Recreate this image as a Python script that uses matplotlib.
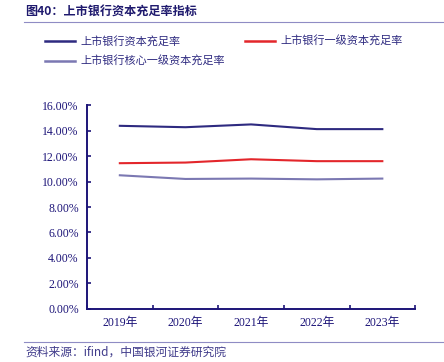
import matplotlib.pyplot as plt
from matplotlib.lines import Line2D

plt.rcParams['font.family'] = ['Noto Sans CJK SC', 'DejaVu Sans']

years = ['2019年', '2020年', '2021年', '2022年', '2023年']
car = [14.39, 14.28, 14.50, 14.13, 14.13]
tier1 = [11.45, 11.50, 11.76, 11.61, 11.61]
core_tier1 = [10.50, 10.21, 10.24, 10.18, 10.24]
yticks = [0, 2, 4, 6, 8, 10, 12, 14, 16]

navy = '#1C1478'
c_car = '#2E2A80'
c_tier1 = '#E3262B'
c_core = '#7B78B2'
serif = ['Liberation Serif', 'Noto Sans CJK SC']

fig = plt.figure(figsize=(4.44, 3.62), dpi=100)
ax = fig.add_axes([0.196, 0.147, 0.739, 0.562])

x = range(len(years))
ax.plot(x, car, color=c_car, lw=1.5)
ax.plot(x, tier1, color=c_tier1, lw=1.5)
ax.plot(x, core_tier1, color=c_core, lw=1.5)

ax.set_xlim(-0.5, len(years) - 0.5)
ax.set_ylim(0, 16)
ax.set_yticks(yticks)
ax.set_yticklabels(['{:.2f}%'.format(v) for v in yticks],
                   family=serif, fontsize=8.5, color=navy)
ax.set_xticks([i + 0.5 for i in range(-1, len(years))])
ax.set_xticklabels([])
ax.set_xticks(list(x), minor=True)
ax.set_xticklabels(years, minor=True, family=serif, fontsize=8.5, color=navy)
ax.tick_params(axis='x', which='minor', length=0, pad=6)
ax.tick_params(axis='both', which='major', direction='in', length=3, width=1.2, color=navy)
ax.tick_params(axis='y', pad=6)

for s in ['top', 'right']:
    ax.spines[s].set_visible(False)
for s in ['left', 'bottom']:
    ax.spines[s].set_color(navy)
    ax.spines[s].set_linewidth(1.4)

# title and rules
fig.text(25 / 444, 1 - 12 / 362, '图40：上市银行资本充足率指标', fontsize=8.7, fontweight='bold',
         color='#1F1A6E', va='center', ha='left')
fig.add_artist(Line2D([24 / 444, 1], [1 - 21.5 / 362] * 2, color='#8F8CC4', lw=0.8))
fig.add_artist(Line2D([24 / 444, 1], [1 - 342 / 362] * 2, color='#8F8CC4', lw=0.8))
fig.text(25 / 444, 1 - 352 / 362, '资料来源：ifind，中国银河证券研究院', fontsize=8.5,
         style='italic', color='#3F3A8A', va='center', ha='left')

# legend
legend_items = [
    ('上市银行资本充足率', c_car, 45, 41),
    ('上市银行一级资本充足率', c_tier1, 245, 41),
    ('上市银行核心一级资本充足率', c_core, 45, 61),
]
for label, col, lx, ly in legend_items:
    fig.add_artist(Line2D([lx / 444, (lx + 30) / 444], [1 - ly / 362] * 2, color=col, lw=1.8))
    fig.text((lx + 35) / 444, 1 - ly / 362, label, fontsize=8, color='#2E2A80',
             va='center', ha='left')

fig.savefig('out.png', dpi=100)
